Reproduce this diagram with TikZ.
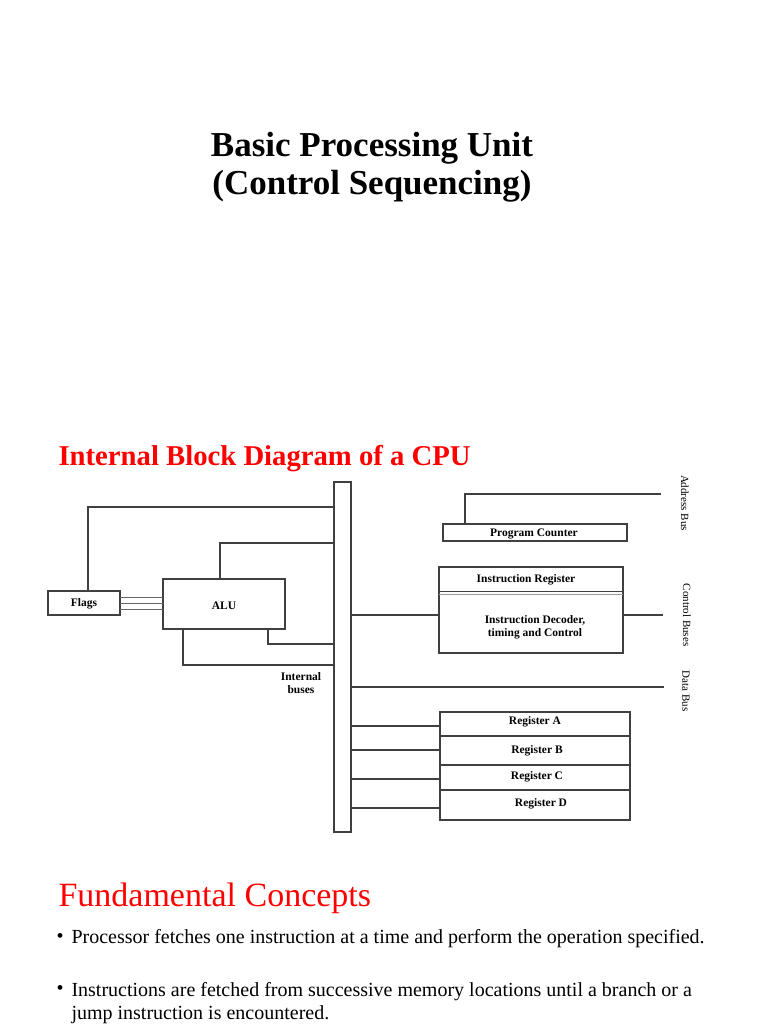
\documentclass[tikz,border=0pt]{standalone}
\usepackage{fontspec}
\setmainfont{Liberation Serif}
\begin{document}
\begin{tikzpicture}[x=1pt,y=-1pt,
  ln/.style={draw=black!75,line width=1.6pt},
  bx/.style={draw=black!75,line width=1.6pt,fill=white},
  lab/.style={font=\bfseries\fontsize{11.5}{13}\selectfont},
  side/.style={font=\fontsize{11}{13}\selectfont,rotate=-90}]
\useasboundingbox (0,0) rectangle (768,1024);
\node[font=\bfseries\fontsize{35}{38}\selectfont,align=center] (title) at (372,167) {Basic Processing Unit\\(Control Sequencing)};
\node[font=\bfseries\fontsize{28.7}{30}\selectfont,text=red,anchor=west] (h1) at (55,459) {Internal Block Diagram of a CPU};
% bus
\draw[bx] (334,482) rectangle (351,832);
% left side
\draw[bx] (48,591) rectangle (120,615); \node[lab] (flags) at (84,604) {Flags};
\draw[bx] (163,579) rectangle (285,629); \node[lab] (alu) at (224,606) {ALU};
\draw[ln] (88,591) -- (88,507) -- (334,507);
\draw[ln] (220,579) -- (220,543) -- (334,543);
\draw[ln] (268,629) -- (268,644) -- (334,644);
\draw[ln] (183,629) -- (183,665) -- (334,665);
\foreach \y in {597,603,609} \draw[black!60,line width=0.7pt] (120,\y) -- (163,\y);
\node[lab,align=center] (ib) at (301,683) {Internal\\buses};
% right side
\draw[ln] (465,524) -- (465,494) -- (661,494);
\draw[bx] (443,524) rectangle (627,541); \node[lab] (pc) at (534,534) {Program Counter};
\draw[bx] (439,567) rectangle (623,653);
\draw[black!75,line width=0.8pt] (439,591) -- (623,591);
\draw[black!40,line width=0.6pt] (439,594) -- (623,594);
\node[lab] (ir) at (526,580) {Instruction Register};
\node[lab,align=center] (idc) at (535,627) {Instruction Decoder,\\timing and Control};
\draw[ln] (351,615) -- (439,615);
\draw[ln] (623,615) -- (663,615);
\draw[ln] (351,687) -- (664,687);
\draw[bx] (440,712) rectangle (630,820);
\foreach \y in {736,765,790} \draw[ln] (440,\y) -- (630,\y);
\node[lab] (ra) at (535,722) {Register A};
\node[lab] (rb) at (537,751) {Register B};
\node[lab] (rc) at (537,777) {Register C};
\node[lab] (rd) at (541,804) {Register D};
\foreach \y in {726,750,779,808} \draw[ln] (351,\y) -- (440,\y);
\node[side] (ab) at (685,503) {Address Bus};
\node[side] (cb) at (687,615) {Control Buses};
\node[side] (db) at (686,691) {Data Bus};
% text
\node[font=\fontsize{34}{38}\selectfont,text=red,anchor=west] (fc) at (55,898) {Fundamental Concepts};
\node[font=\fontsize{20}{22}\selectfont,anchor=west] (b1) at (53,938) {\textbullet};
\node[font=\fontsize{20}{22}\selectfont,anchor=west] (t1) at (68,939) {Processor fetches one instruction at a time and perform the operation specified.};
\node[font=\fontsize{20}{22}\selectfont,anchor=west] (b2) at (53,990) {\textbullet};
\node[font=\fontsize{20}{23}\selectfont,anchor=north west,align=left] (t2) at (68,979) {Instructions are fetched from successive memory locations until a branch or a\\jump instruction is encountered.};
\end{tikzpicture}
\end{document}
